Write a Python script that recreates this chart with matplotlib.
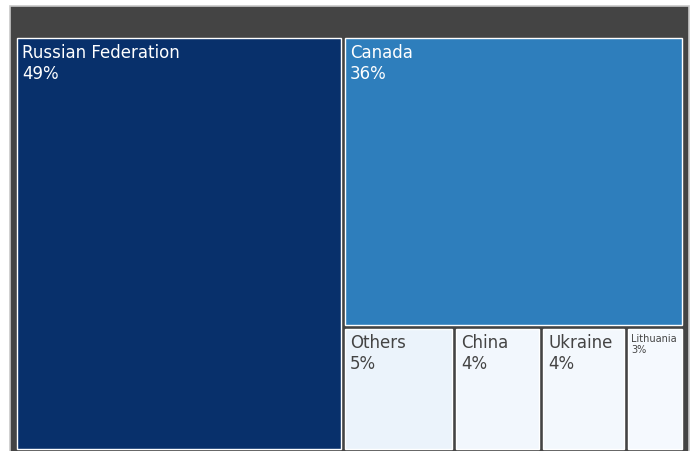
import matplotlib
matplotlib.use('Agg')
import matplotlib.pyplot as plt
from matplotlib.patches import Rectangle

# data (share of total, %)
names = ['Russian Federation', 'Canada', 'Others', 'China', 'Ukraine', 'Lithuania']
shares = [49.0, 35.7, 5.0, 3.9, 3.8, 2.6]
colors = ['#08306b', '#2e7ebc', '#ebf3fb', '#f2f7fd', '#f3f8fd', '#f5f9fe']
text_colors = ['white', 'white', '#444444', '#444444', '#444444', '#444444']
font_sizes = [12, 12, 12, 12, 12, 7]


def worst(row, w):
    s = sum(row)
    return max(max(w * w * r / (s * s), s * s / (w * w * r)) for r in row)


def squarify(vals, x, y, dx, dy):
    # vals already scaled to area
    rects = []
    vals = list(vals)
    while vals:
        w = min(dx, dy)
        row = [vals.pop(0)]
        while vals and worst(row + [vals[0]], w) <= worst(row, w):
            row.append(vals.pop(0))
        s = sum(row)
        if dx >= dy:
            # column on the left
            cw = s / dy
            yy = y
            for r in row:
                h = r / cw
                rects.append((x, yy, cw, h))
                yy += h
            x += cw
            dx -= cw
        else:
            # row along the top
            rh = s / dx
            xx = x
            for r in row:
                ww = r / rh
                rects.append((xx, y, ww, rh))
                xx += ww
            y += rh
            dy -= rh
    return rects


fig = plt.figure(figsize=(6.92, 4.52), dpi=100)
ax = fig.add_axes([0, 0, 1, 1])
ax.set_xlim(0, 692)
ax.set_ylim(452, 0)
ax.axis('off')

ax.add_patch(Rectangle((9.5, 6.5), 679, 450, facecolor='#444444',
                       edgecolor='#c8c8c8', linewidth=1.2))

X0, Y0, W, H = 15, 37, 669, 415
total = sum(shares)
areas = [v / total * W * H for v in shares]
gap = 2.0
for (x, y, w, h), n, v, c, tc, fs in zip(squarify(areas, X0, Y0, W, H),
                                         names, shares, colors, text_colors, font_sizes):
    ax.add_patch(Rectangle((x + gap, y + gap), w - 2 * gap, h - 2 * gap,
                           facecolor=c, edgecolor='white', linewidth=1.0))
    small = fs < 10
    ax.text(x + gap + (3 if small else 5), y + gap + (5 if small else 4.5),
            f'{n}\n{round(v):.0f}%', color=tc,
            fontsize=fs, va='top', ha='left', linespacing=1.1 if small else 1.24)

fig.savefig('out.png', dpi=100)
